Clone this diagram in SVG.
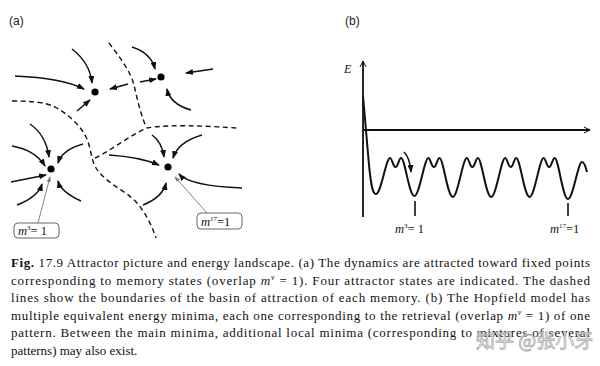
<svg xmlns="http://www.w3.org/2000/svg" width="600" height="366" viewBox="0 0 600 366">
<style>
.lbl{font-family:"Liberation Sans",Arial,sans-serif;font-size:12px;fill:#222}
.ser{font-family:"Liberation Serif","Times New Roman",serif;fill:#111}
.it{font-style:italic}
.arr{fill:none;stroke:#111;stroke-width:1.5;marker-end:url(#ah)}
.dash{fill:none;stroke:#111;stroke-width:1.4;stroke-dasharray:5 3.5}
.lead{fill:none;stroke:#777;stroke-width:0.9;marker-end:url(#ahs)}
.box{fill:#fff;stroke:#666;stroke-width:1}
.cap{font-family:"Liberation Serif","Times New Roman",serif;font-size:13px;fill:#111}
</style>
<defs>
<marker id="ah" markerUnits="userSpaceOnUse" markerWidth="8" markerHeight="6" refX="7" refY="3" orient="auto"><path d="M0,0 L8,3 L0,6 z" fill="#111"/></marker>
<marker id="ahs" markerUnits="userSpaceOnUse" markerWidth="6" markerHeight="4" refX="5" refY="2" orient="auto"><path d="M0,0 L6,2 L0,4 z" fill="#777"/></marker>
<marker id="ax" markerUnits="userSpaceOnUse" markerWidth="8" markerHeight="8" refX="6" refY="4" orient="auto"><path d="M0,1 L6,4 L0,7" fill="none" stroke="#111" stroke-width="1"/></marker>
</defs>
<rect width="600" height="366" fill="#fff"/>

<text class="lbl" x="9" y="25">(a)</text>
<text class="lbl" x="345" y="25">(b)</text>

<!-- panel a: basin boundaries -->
<g id="boundaries">
<path class="dash" d="M109,43 C118,55 130,70 134,85 C137,98 140,112 146,127"/>
<path class="dash" d="M12,101 C30,101 45,102 55,107 C68,114 80,125 86,137 C91,147 91,160 96,168 C102,178 115,186 127,194 C140,203 150,220 156,238"/>
<path class="dash" d="M95,158 C112,150 130,135 147,128 C170,124 205,126 237,128"/>
</g>

<g id="connectors">
<!-- dot 1 -->
<path class="arr" d="M72,49 Q90,63 92,83"/>
<path class="arr" d="M15,76 Q62,78 84,89"/>
<path class="arr" d="M77,111 L90,100"/>
<path class="arr" d="M128,84 L110,89"/>
<path class="arr" d="M140,82 L156,79"/>
<!-- dot 2 -->
<path class="arr" d="M132,47 Q151,53 155,69"/>
<path class="arr" d="M213,69 L186,73"/>
<path class="arr" d="M191,110 Q170,104 167,89"/>
<!-- dot 3 -->
<path class="arr" d="M30,124 Q46,135 49,157"/>
<path class="arr" d="M12,146 Q35,150 45,166"/>
<path class="arr" d="M11,182 L46,175"/>
<path class="arr" d="M17,205 Q38,197 42,184"/>
<path class="arr" d="M83,144 Q62,150 58,163"/>
<path class="arr" d="M81,201 Q61,192 58,181"/>
<!-- dot 4 -->
<path class="arr" d="M152,135 Q162,142 164,157"/>
<path class="arr" d="M202,135 Q178,142 173,158"/>
<path class="arr" d="M109,155 Q140,157 159,165"/>
<path class="arr" d="M242,188 Q190,186 179,174"/>
<path class="arr" d="M143,205 Q163,197 166,183"/>
<!-- leaders -->
<path class="lead" d="M38,223 L50,177"/>
<path class="lead" d="M207,213 L175,177"/>
</g>

<g id="attractor1"><circle cx="95" cy="92" r="3.6" fill="#000"/></g>
<g id="attractor2"><circle cx="161" cy="77" r="3.6" fill="#000"/></g>
<g id="attractor3"><circle cx="51" cy="169" r="3.6" fill="#000"/></g>
<g id="attractor4"><circle cx="168" cy="167" r="3.6" fill="#000"/></g>

<g id="label-m3">
<rect class="box" x="14" y="223" width="45" height="15" rx="4"/>
<text class="ser" font-size="12.5" x="18" y="235"><tspan class="it">m</tspan><tspan font-size="7" dy="-5">3</tspan><tspan dy="5">= 1</tspan></text>
</g>
<g id="label-m17">
<rect class="box" x="197" y="213" width="45" height="16" rx="4"/>
<text class="ser" font-size="12.5" x="201" y="225.5"><tspan class="it">m</tspan><tspan font-size="7" dy="-5">17</tspan><tspan dy="5">=1</tspan></text>
</g>

<!-- panel b -->
<g id="energy-plot">
<text class="ser it" font-size="12" x="344" y="73">E</text>
<line x1="363" y1="217" x2="363" y2="61" stroke="#111" stroke-width="1.8" marker-end="url(#ax)"/>
<line x1="363" y1="130" x2="590" y2="130" stroke="#111" stroke-width="1.8" marker-end="url(#ax)"/>
<path fill="none" stroke="#111" stroke-width="2" d="M363,96 L369,165 C371,185 372.5,194 376,194
C381,194 386,158 390,158 C392,158 393,167 395.5,167 C398,167 399,158 401,158 C405,158 409,196 414.4,196
C419.4,196 424.4,158 428.4,158 C430.4,158 431.4,167 433.9,167 C436.4,167 437.4,158 439.4,158 C443.4,158 447.4,197 452.8,197
C457.8,197 462.8,158 466.8,158 C468.8,158 469.8,167 472.3,167 C474.8,167 475.8,158 477.8,158 C481.8,158 485.8,197 491.2,197
C496.2,197 501.2,158 505.2,158 C507.2,158 508.2,167 510.7,167 C513.2,167 514.2,158 516.2,158 C520.2,158 524.2,197 529.6,197
C534.6,197 539.6,158 543.6,158 C545.6,158 546.6,167 549.1,167 C551.6,167 552.6,158 554.6,158 C558.6,158 562.6,199 568,199
C573,199 578,162 582,162 C584.5,162 586,168 587,172"/>
<path class="arr" d="M404,152 Q410,158 411,172"/>
<line x1="415" y1="201" x2="415" y2="216" stroke="#111" stroke-width="1.6"/>
<line x1="568" y1="203" x2="568" y2="216" stroke="#111" stroke-width="1.6"/>
<text class="ser" font-size="12.5" x="395" y="233"><tspan class="it">m</tspan><tspan font-size="7" dy="-5">3</tspan><tspan dy="5">= 1</tspan></text>
<text class="ser" font-size="12.5" x="550" y="233"><tspan class="it">m</tspan><tspan font-size="7" dy="-5">17</tspan><tspan dy="5">=1</tspan></text>
</g>

<!-- caption -->
<g id="caption">
<text class="cap" x="11" y="267" textLength="579" lengthAdjust="spacing"><tspan font-weight="bold">Fig.</tspan> 17.9  Attractor picture and energy landscape. (a) The dynamics are attracted toward fixed points</text>
<text class="cap" x="11" y="285" textLength="579" lengthAdjust="spacing">corresponding to memory states (overlap <tspan font-style="italic">m</tspan><tspan font-size="8" dy="-5" font-style="italic">ν</tspan><tspan dy="5"> = 1). Four attractor states are indicated. The dashed</tspan></text>
<text class="cap" x="11" y="302" textLength="579" lengthAdjust="spacing">lines show the boundaries of the basin of attraction of each memory. (b) The Hopfield model has</text>
<text class="cap" x="11" y="320" textLength="579" lengthAdjust="spacing">multiple equivalent energy minima, each one corresponding to the retrieval (overlap <tspan font-style="italic">m</tspan><tspan font-size="8" dy="-5" font-style="italic">ν</tspan><tspan dy="5"> = 1) of one</tspan></text>
<text class="cap" x="11" y="337" textLength="579" lengthAdjust="spacing">pattern. Between the main minima, additional local minima (corresponding to mixtures of several</text>
<text class="cap" x="11" y="355">patterns) may also exist.</text>
</g>

<g id="watermark">
<text x="476" y="348" font-family="'Noto Sans CJK SC',sans-serif" font-size="19" fill="#fff" fill-opacity="0.6" stroke="#aaa" stroke-width="0.8">知乎 @张小牙</text>
</g>
</svg>
